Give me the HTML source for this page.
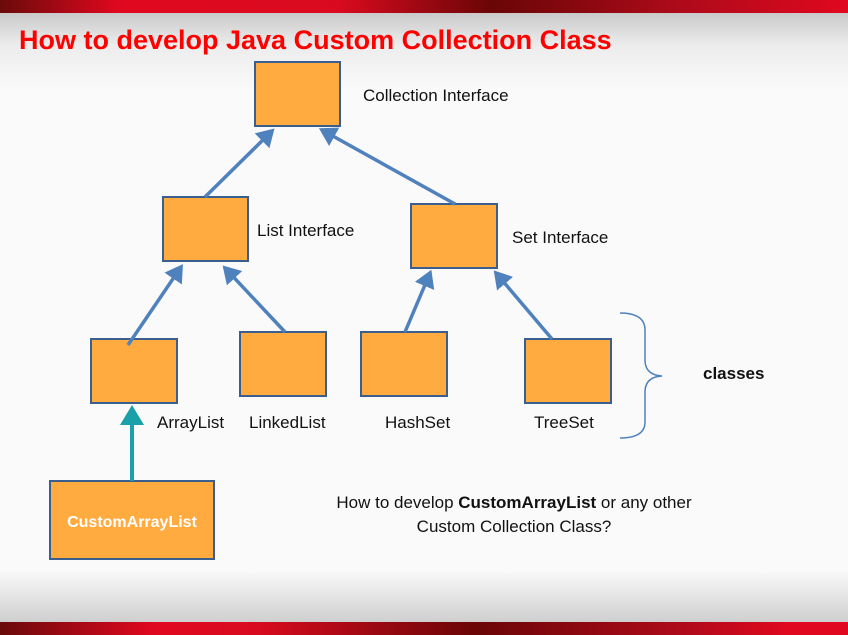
<!DOCTYPE html>
<html><head><style>
body{margin:0;width:848px;height:635px;overflow:hidden;font-family:"Liberation Sans",sans-serif;}
.bg{position:absolute;left:0;top:0;width:848px;height:635px;background:linear-gradient(#c9c9c9 13px,#ececec 45px,#fafafa 90px,#fafafa 570px,#cfcfcf 622px);}
.bar{position:absolute;left:0;width:848px;height:13px;background:linear-gradient(90deg,#6a0a0a 0%,#e0081f 14%,#d90a1f 40%,#6a0606 58%,#ad0a1a 80%,#e0081f 100%);}
</style></head><body>
<div class="bg"></div>
<div class="bar" style="top:0"></div>
<div class="bar" style="top:622px;background:linear-gradient(90deg,#6a0a0a 0%,#e0081f 18%,#d90a1f 30%,#6a0606 56%,#ad0a1a 80%,#e0081f 93%)"></div>
<svg width="848" height="635" style="position:absolute;left:0;top:0">
<defs>
<marker id="a" markerWidth="6" markerHeight="6" refX="4" refY="3" orient="auto" markerUnits="strokeWidth"><path d="M0,0 L5,3 L0,6 z" fill="#4f81bd"/></marker>
<marker id="t" markerWidth="6" markerHeight="6" refX="4" refY="3" orient="auto" markerUnits="strokeWidth"><path d="M0,0 L5,3 L0,6 z" fill="#1aa0a8"/></marker>
</defs>
<text x="19" y="49" font-size="27" font-weight="bold" fill="#ff0000" font-family="Liberation Sans">How to develop Java Custom Collection Class</text>
<g fill="#ffab40" stroke="#3a5f8f" stroke-width="2">
<rect x="255" y="62" width="85" height="64"/>
<rect x="163" y="197" width="85" height="64"/>
<rect x="411" y="204" width="86" height="64"/>
<rect x="91" y="339" width="86" height="64"/>
<rect x="240" y="332" width="86" height="64"/>
<rect x="361" y="332" width="86" height="64"/>
<rect x="525" y="339" width="86" height="64"/>
<rect x="50" y="481" width="164" height="78"/>
</g>
<g stroke="#4f81bd" stroke-width="3.5" marker-end="url(#a)">
<line x1="205" y1="197" x2="272" y2="131"/>
<line x1="455" y1="204" x2="322" y2="130"/>
<line x1="128" y1="345" x2="181" y2="267"/>
<line x1="285" y1="332" x2="225" y2="268"/>
<line x1="405" y1="332" x2="430" y2="273"/>
<line x1="552" y1="339" x2="496" y2="273"/>
</g>
<line x1="132" y1="481" x2="132" y2="409" stroke="#1aa0a8" stroke-width="4" marker-end="url(#t)"/>
<path d="M620,313 Q645,313 645,330 L645,360 Q645,375 662,376 Q645,377 645,392 L645,422 Q645,438 620,438" fill="none" stroke="#4f81bd" stroke-width="1.5"/>
<g font-size="17" fill="#111" font-family="Liberation Sans">
<text x="363" y="101">Collection Interface</text>
<text x="257" y="236">List Interface</text>
<text x="512" y="243">Set Interface</text>
<text x="157" y="428">ArrayList</text>
<text x="249" y="428">LinkedList</text>
<text x="385" y="428">HashSet</text>
<text x="534" y="428">TreeSet</text>
<text x="703" y="379" font-weight="bold">classes</text>
<text x="514" y="508" text-anchor="middle">How to develop <tspan font-weight="bold">CustomArrayList</tspan> or any other</text>
<text x="514" y="532" text-anchor="middle">Custom Collection Class?</text>
</g>
<text x="132" y="527" text-anchor="middle" font-size="16" font-weight="bold" fill="#fff" font-family="Liberation Sans">CustomArrayList</text>
</svg>
</body></html>
